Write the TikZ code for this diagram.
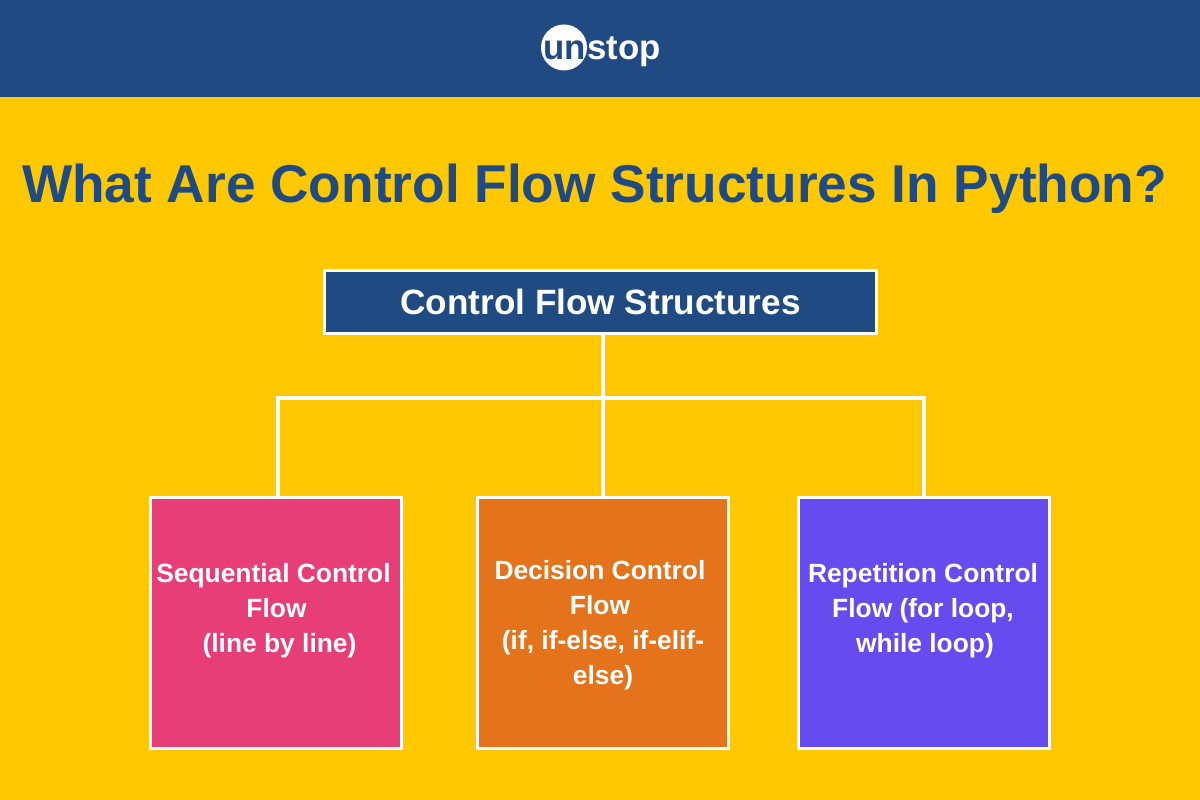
\documentclass[tikz,border=0pt]{standalone}
\usepackage{fontspec}
\setmainfont{Liberation Sans}
\usepackage{xcolor}
\definecolor{navy}{HTML}{1F4B82}
\definecolor{gold}{HTML}{FFC800}
\definecolor{rosebox}{HTML}{E83E78}
\definecolor{orangebox}{HTML}{E4731B}
\definecolor{violetbox}{HTML}{664CEE}
\tikzset{
	framed/.style={draw=white,line width=0.033cm,minimum height=2.51cm,minimum width=2.51cm,inner sep=0pt},
	boxtext/.style={text=white,align=center,inner sep=0pt,font=\bfseries\fontsize{7.5}{9.95}\selectfont},
	logotext/.style={inner sep=0pt,anchor=base west,font=\bfseries\fontsize{9.9}{10}\selectfont},
	link/.style={draw=white,line width=0.033cm}
}
\begin{document}
\begin{tikzpicture}
			% Nền
			\fill [gold] (0,0) rectangle (12,8);
			\fill [navy] (0,7.03) rectangle (12,8);
			% Logo
			\node [circle,fill=white,minimum size=0.46cm,inner sep=0pt] (badge) at (5.64,7.525) {};
			\node [logotext,text=navy] (logoun) at (5.43,7.405) {un};
			\node [logotext,text=white] (logostop) at (logoun.base east) {stop};
			% Tiêu đề
			\node [inner sep=0pt,text=navy,font=\bfseries\fontsize{15.15}{18}\selectfont] (title) at (5.945,6.11) {What Are Control Flow Structures In Python?};
			% Các ô
			\node [draw=white,line width=0.033cm,fill=navy,minimum width=5.52cm,minimum height=0.63cm,inner sep=0pt,text=white,font=\bfseries\fontsize{10}{12}\selectfont] (top) at (6.005,4.98) {Control Flow Structures};
			\node [framed,fill=rosebox] (seq) at (2.76,1.77) {};
			\node [framed,fill=orangebox] (dec) at (6.03,1.77) {};
			\node [framed,fill=violetbox] (rep) at (9.24,1.77) {};
			\node [boxtext] (seqtext) at (2.735,1.89) {Sequential Control\\\hspace{0.06cm}Flow\\\hspace{0.12cm}(line by line)};
			\node [boxtext] (dectext) at (6.03,1.75) {\hspace{-0.06cm}Decision Control\\\hspace{-0.06cm}Flow\\(if, if-else, if-elif-\\else)};
			\node [boxtext] (reptext) at (9.23,1.89) {Repetition Control\\Flow (for loop,\\\hspace{0.04cm}while loop)};
			% Đường nối
			\coordinate (hub) at (6.03,4.02);
			\coordinate (hubleft) at (2.78,4.02);
			\coordinate (hubright) at (9.24,4.02);
			\draw [link] (top.south -| hub) -- (hub) -- (dec.north);
			\draw [link,line cap=rect] (seq.north -| hubleft) -- (hubleft) -- (hubright) -- (rep.north);
		\end{tikzpicture}
\end{document}
